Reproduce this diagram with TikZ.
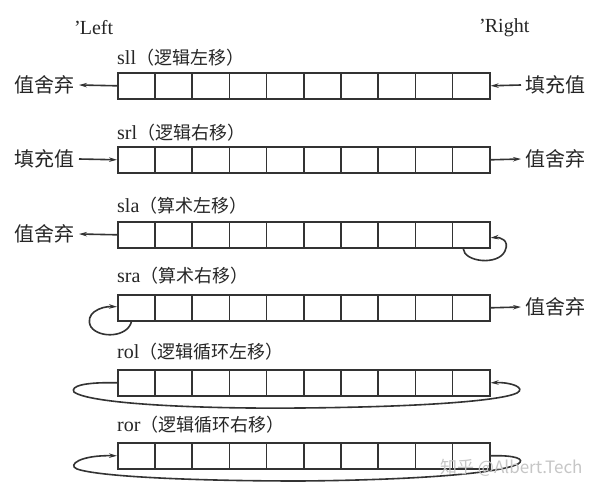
\documentclass[tikz,border=0pt]{standalone}
\usepackage{fontspec}
\setmainfont{Liberation Serif}
\newfontfamily\cjk{Noto Sans CJK SC}
\usetikzlibrary{arrows.meta}
\begin{document}
\begin{tikzpicture}[x=1pt,y=-1pt,
  line/.style={draw=black!80,line width=1.6pt},
  cell/.style={line, rectangle, minimum width=37.2pt, minimum height=26pt, inner sep=0pt, anchor=north west},
  tip/.style={-{Stealth[length=8pt,width=4.5pt]}},
  title/.style={anchor=west, inner sep=0pt, text=black!85, font=\fontsize{20}{22}\selectfont},
  side/.style={inner sep=4pt, text=black!85, font=\cjk\fontsize{20}{22}\selectfont}]
\useasboundingbox (0,0) rectangle (616,494);
\fill[white] (0,0) rectangle (616,494);
\foreach \row/\top in {1/72,2/146,3/221,4/294,5/369,6/442} {
  \foreach \col in {1,...,10} {
    \node[cell] (r\row c\col) at ({117+(\col-1)*37.2},\top) {};
  }
}
% titles
\node[title] (left) at (74,28) {'\kern-1ptLeft};
\node[title] (right) at (479,28) {'\kern-1ptRight};
\node[title] (t1) at (117,58) {sll{\cjk\fontsize{18}{20}\selectfont（逻辑左移）}};
\node[title] (t2) at (117,133) {srl{\cjk\fontsize{18}{20}\selectfont（逻辑右移）}};
\node[title] (t3) at (117,206) {sla{\cjk\fontsize{18}{20}\selectfont（算术左移）}};
\node[title] (t4) at (117,276) {sra{\cjk\fontsize{18}{20}\selectfont（算术右移）}};
\node[title] (t5) at (117,352) {rol{\cjk\fontsize{18}{20}\selectfont（逻辑循环左移）}};
\node[title] (t6) at (117,425) {ror{\cjk\fontsize{18}{20}\selectfont（逻辑循环右移）}};
% side labels
\node[side,anchor=east] (s1l) at (79,85) {值舍弃};
\node[side,anchor=west] (s1r) at (521,85) {填充值};
\node[side,anchor=east] (s2l) at (79,159) {填充值};
\node[side,anchor=west] (s2r) at (521,159) {值舍弃};
\node[side,anchor=east] (s3l) at (79,234) {值舍弃};
\node[side,anchor=west] (s4r) at (521,307) {值舍弃};
% arrows
\draw[line,tip] (r1c1.west) -- (s1l.east);
\draw[line,tip] (s1r.west) -- (r1c10.east);
\draw[line,tip] (s2l.east) -- (r2c1.west);
\draw[line,tip] (r2c10.east) -- (s2r.west);
\draw[line,tip] (r3c1.west) -- (s3l.east);
\draw[line,tip] (r4c10.east) -- (s4r.west);
% sla loop
\draw[line,tip] ([xshift=-8pt]r3c10.south) .. controls (464,262) and (498,266) .. (505,251) .. controls (510,240) and (500,237) .. ([yshift=-3pt]r3c10.east);
% sra loop
\draw[line,tip] ([xshift=-5pt]r4c1.south) .. controls (128,337) and (100,339) .. (91,327) .. controls (84,314) and (100,306) .. ([yshift=1pt]r4c1.west);
% rol loop
\draw[line,tip] (r5c1.west) .. controls (85,382) and (70,386) .. (74,392) .. controls (90,404) and (200,409) .. (300,408) .. controls (420,407) and (500,401) .. (517,393) .. controls (526,388) and (512,382) .. (r5c10.east);
% ror loop
\draw[line,tip] (r6c10.east) .. controls (515,455) and (526,459) .. (518,464) .. controls (500,473) and (420,480) .. (300,481) .. controls (200,481) and (100,477) .. (77,469) .. controls (67,465) and (80,455) .. (r6c1.west);
% watermark
\node[anchor=west, inner sep=0pt, text=gray!45, font=\cjk\fontsize{17}{20}\selectfont] (wm) at (440,468) {知乎 @Albert.Tech};
\end{tikzpicture}
\end{document}
